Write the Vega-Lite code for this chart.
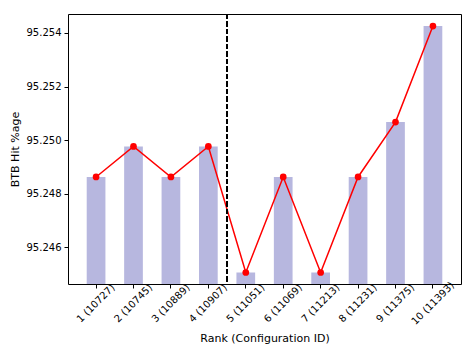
{
  "$schema": "https://vega.github.io/schema/vega-lite/v6.json",
  "autosize": {"type": "none"},
  "padding": {"left": 68, "top": 14, "right": 13, "bottom": 71},
  "width": 393,
  "height": 270,
  "config": {
    "font": "DejaVu Sans",
    "view": {"stroke": "#000000", "strokeWidth": 1},
    "axis": {
      "grid": false,
      "domain": false,
      "tickColor": "#000000",
      "tickSize": 4,
      "labelColor": "#000000",
      "titleColor": "#000000",
      "labelFont": "DejaVu Sans",
      "titleFont": "DejaVu Sans",
      "labelFontSize": 10,
      "titleFontSize": 11,
      "titleFontWeight": "normal"
    }
  },
  "data": {
    "values": [
      {"label": "1 (10727)", "hit": 95.24862},
      {"label": "2 (10745)", "hit": 95.24976},
      {"label": "3 (10889)", "hit": 95.24862},
      {"label": "4 (10907)", "hit": 95.24976},
      {"label": "5 (11051)", "hit": 95.24505},
      {"label": "6 (11069)", "hit": 95.24862},
      {"label": "7 (11213)", "hit": 95.24505},
      {"label": "8 (11231)", "hit": 95.24862},
      {"label": "9 (11375)", "hit": 95.25067},
      {"label": "10 (11393)", "hit": 95.25426}
    ]
  },
  "encoding": {
    "x": {
      "field": "label",
      "type": "ordinal",
      "sort": null,
      "scale": {"paddingInner": 0.5, "paddingOuter": 0.5},
      "axis": {
        "title": "Rank (Configuration ID)",
        "labelAngle": -45,
        "labelAlign": "center",
        "labelBaseline": "middle",
        "labelPadding": 15,
        "titlePadding": 6
      }
    },
    "y": {
      "field": "hit",
      "type": "quantitative",
      "scale": {"domain": [95.24462, 95.25471], "zero": false, "nice": false},
      "axis": {
        "title": "BTB Hit %age",
        "values": [95.246, 95.248, 95.25, 95.252, 95.254],
        "format": ".3f",
        "labelPadding": 3,
        "titlePadding": 6
      }
    }
  },
  "layer": [
    {
      "mark": {"type": "bar", "color": "#b7b7df", "clip": true}
    },
    {
      "mark": {"type": "line", "color": "#ff0000", "strokeWidth": 1.5}
    },
    {
      "mark": {"type": "point", "filled": true, "color": "#ff0000", "size": 45, "opacity": 1}
    },
    {
      "mark": {"type": "rule", "color": "#000000", "strokeWidth": 1.5, "strokeDash": [5, 2.5]},
      "encoding": {
        "x": {"datum": "4 (10907)", "type": "ordinal", "bandPosition": 1.5},
        "y": null
      }
    }
  ]
}
